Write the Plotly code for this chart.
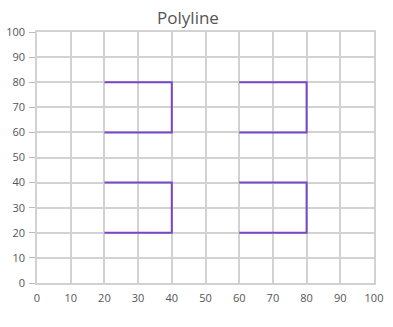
import plotly.graph_objects as go

# Polyline data (four shapes)
shape_a_x = [20, 40, 40, 20]
shape_a_y = [80, 80, 60, 60]
shape_b_x = [60, 80, 80, 60]
shape_b_y = [80, 80, 60, 60]
shape_c_x = [20, 40, 40, 20]
shape_c_y = [40, 40, 20, 20]
shape_d_x = [60, 80, 80, 60]
shape_d_y = [40, 40, 20, 20]

tick_vals = list(range(0, 101, 10))

fig = go.Figure()
line_color = "#7548c4"
for xs, ys in [(shape_a_x, shape_a_y), (shape_b_x, shape_b_y),
               (shape_c_x, shape_c_y), (shape_d_x, shape_d_y)]:
    fig.add_trace(go.Scatter(x=xs, y=ys, mode="lines",
                             line=dict(color=line_color, width=2),
                             showlegend=False, hoverinfo="skip"))

axis_common = dict(range=[0, 100], tickvals=tick_vals, showgrid=True,
                   gridcolor="#d2d2d2", gridwidth=1.5, zeroline=False,
                   showline=True, linecolor="#d2d2d2", linewidth=1.5,
                   tickfont=dict(family="Open Sans", size=11, color="#555555"),
                   fixedrange=True, automargin=False)

fig.update_layout(
    width=393, height=327,
    margin=dict(l=37, r=19, t=32, b=44),
    paper_bgcolor="white", plot_bgcolor="white",
    title=dict(text="Polyline", x=188/393, xref="container", xanchor="center",
               y=1 - 18/327, yanchor="middle",
               font=dict(family="Open Sans", size=17, color="#555555")),
    xaxis=dict(**axis_common, ticks="", mirror=True, ticklabelstandoff=4),
    yaxis=dict(**axis_common, ticks="outside", ticklen=6, tickcolor="#bbbbbb",
               mirror=True, ticklabelstandoff=2),
)

fig.write_html("out.html", config={"displayModeBar": False})
